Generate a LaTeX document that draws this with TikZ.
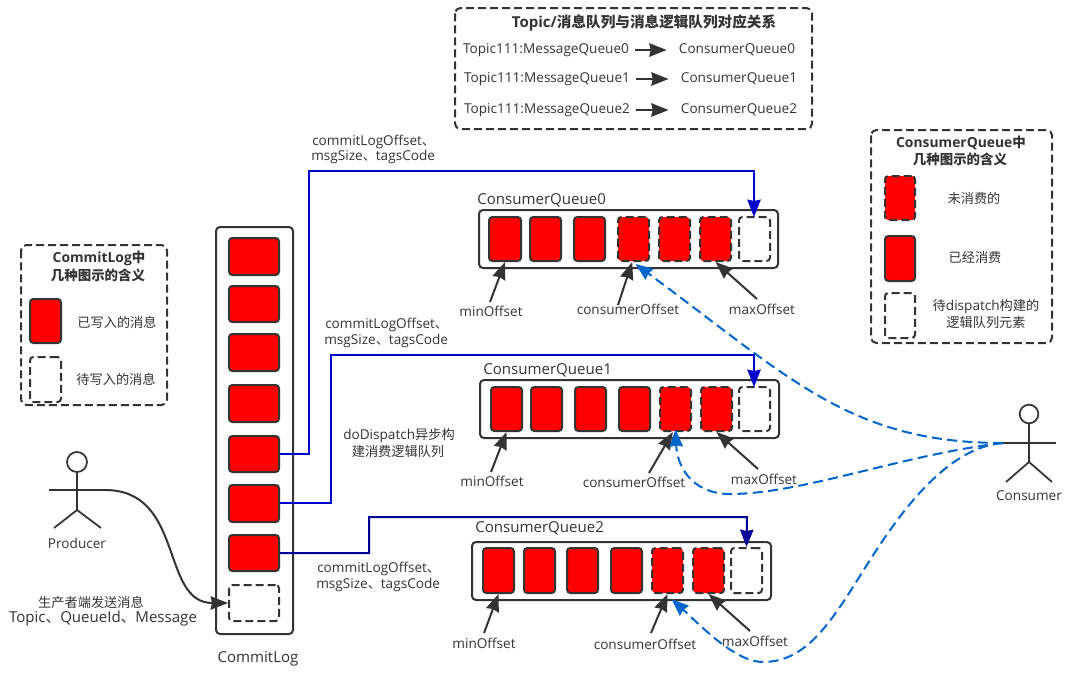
\documentclass[tikz,border=0pt]{standalone}
\usepackage{fontspec}
\setmainfont{Open Sans}
\newfontfamily\cjk[Scale=0.97]{Noto Sans CJK SC}
\usetikzlibrary{arrows.meta}
\definecolor{ink}{HTML}{333333}
\definecolor{bluea}{HTML}{0000CC}
\definecolor{blueb}{HTML}{000099}
\definecolor{blued}{HTML}{0066CC}
\tikzset{
  cellbase/.style={draw=ink,line width=1.5pt,rounded corners=2.5pt,inner sep=0pt,minimum width=#1},
  cellbase/.default=31,
  solid cell/.style={fill=red},
  dash cell/.style={fill=red,dash pattern=on 6pt off 3pt},
  empty cell/.style={fill=white,dash pattern=on 6pt off 3pt},
  frame/.style={draw=ink,line width=1.5pt,rounded corners=3pt,fill=white},
  legend/.style={draw=ink,line width=1.5pt,rounded corners=4pt,dash pattern=on 6pt off 3pt},
  txt/.style={text=ink,font=\fontsize{10.2pt}{12pt}\selectfont,inner sep=0pt},
  big/.style={text=ink,font=\fontsize{11.3pt}{13pt}\selectfont,inner sep=0pt},
  ttl/.style={text=ink,font=\fontsize{10.4pt}{12pt}\selectfont\bfseries,inner sep=0pt},
  tip/.style={-{Stealth[length=13pt,width=10pt,inset=1pt,sep=0pt]}},
  darrow/.style={draw=ink,line width=1.5pt,tip},
  link/.style={line width=1.5pt,tip},
  bdash/.style={draw=blued,line width=1.5pt,dash pattern=on 7.5pt off 4pt,tip},
  limb/.style={draw=ink,line width=1.3pt},
}
\newcommand{\cellq}[6]{%
  \pgfmathsetlengthmacro{\cw}{(#4-#3)*0.75pt}%
  \pgfmathsetlengthmacro{\ch}{(#6-#5)*0.75pt}%
  \node[cellbase=\cw,minimum height=\ch,#2] (#1) at ({(#3+#4)/2},{(#5+#6)/2}) {};}
\begin{document}
\begin{tikzpicture}[x=0.75pt,y=-0.75pt]
\useasboundingbox (0,0) rectangle (1066,675);
% top legend
\draw[legend] (455,8) rectangle (812,129);
\node[ttl,font=\fontsize{11.3pt}{13pt}\selectfont\bfseries] (tt) at (644,23) {Topic/{\cjk 消息队列与消息逻辑队列对应关系}};
\node[txt] (l0) at (546,50) {Topic111:MessageQueue0};
\node[txt] (r0) at (737,50) {ConsumerQueue0};
\node[txt] (l1) at (547,79) {Topic111:MessageQueue1};
\node[txt] (r1) at (739,79) {ConsumerQueue1};
\node[txt] (l2) at (547,110) {Topic111:MessageQueue2};
\node[txt] (r2) at (739,110) {ConsumerQueue2};
\draw[darrow] (l0.east)++(6,0) -- ([xshift=-9]r0.west);
\draw[darrow] (l1.east)++(6,0) -- ([xshift=-9]r1.west);
\draw[darrow] (l2.east)++(6,0) -- ([xshift=-9]r2.west);
% commitlog legend
\draw[legend] (21,245) rectangle (167,405);
\node[ttl] (a1) at (99,258) {CommitLog{\cjk 中}};
\node[ttl] (a2) at (98,275) {\cjk 几种图示的含义};
\cellq{a3}{solid cell}{30}{61}{299}{343}
\cellq{a4}{empty cell}{30}{61}{357}{402}
\node[txt] (a5) at (117,322) {\cjk 已写入的消息};
\node[txt] (a6) at (116,379) {\cjk 待写入的消息};
% consumer legend
\draw[legend] (871,130) rectangle (1052,343);
\node[ttl] (b1) at (961,143) {ConsumerQueue{\cjk 中}};
\node[ttl] (b2) at (960,159) {\cjk 几种图示的含义};
\cellq{b3}{dash cell}{885}{915}{176}{220}
\cellq{b4}{solid cell}{885}{915}{236}{281}
\cellq{b5}{empty cell}{885}{915}{293}{338}
\node[txt] (b6) at (974,198) {\cjk 未消费的};
\node[txt] (b7) at (975,257) {\cjk 已经消费};
\node[txt] (b8) at (986,307) {{\cjk 待}dispatch{\cjk 构建的}};
\node[txt] (b9) at (986,323) {\cjk 逻辑队列元素};
% commit log
\draw[frame] (216,227) rectangle (293,634);
\cellq{m0}{solid cell}{229}{279}{238}{275}
\cellq{m1}{solid cell}{229}{279}{286}{322}
\cellq{m2}{solid cell}{229}{279}{334}{371}
\cellq{m3}{solid cell}{229}{279}{385}{422}
\cellq{m4}{solid cell}{229}{279}{436}{472}
\cellq{m5}{solid cell}{229}{279}{485}{522}
\cellq{m6}{solid cell}{229}{279}{535}{571}
\cellq{m7}{empty cell}{229}{279}{585}{621}
\node[big] (cl) at (258,659) {CommitLog};
% queue 0
\draw[frame] (479,210) rectangle (778,268);
\node[big,anchor=west] (q0) at (477,200) {ConsumerQueue0};
\cellq{c00}{solid cell}{489}{521}{217}{261}
\cellq{c01}{solid cell}{530}{561}{217}{261}
\cellq{c02}{solid cell}{574}{605}{217}{261}
\cellq{c03}{dash cell}{618}{649}{217}{261}
\cellq{c04}{dash cell}{659}{690}{217}{261}
\cellq{c05}{dash cell}{700}{731}{217}{261}
\cellq{c06}{empty cell}{739}{770}{217}{261}
% queue 1
\draw[frame] (480,380) rectangle (779,438);
\node[big,anchor=west] (q1) at (483,370) {ConsumerQueue1};
\cellq{c10}{solid cell}{491}{522}{387}{431}
\cellq{c11}{solid cell}{531}{562}{387}{431}
\cellq{c12}{solid cell}{575}{606}{387}{431}
\cellq{c13}{solid cell}{619}{650}{387}{431}
\cellq{c14}{dash cell}{660}{691}{387}{431}
\cellq{c15}{dash cell}{701}{732}{387}{431}
\cellq{c16}{empty cell}{739}{770}{387}{431}
% queue 2
\draw[frame] (472,542) rectangle (771,600);
\node[big,anchor=west] (q2) at (475,528) {ConsumerQueue2};
\cellq{c20}{solid cell}{483}{514}{548}{593}
\cellq{c21}{solid cell}{524}{555}{548}{593}
\cellq{c22}{solid cell}{567}{598}{548}{593}
\cellq{c23}{solid cell}{611}{642}{548}{593}
\cellq{c24}{dash cell}{652}{683}{548}{593}
\cellq{c25}{dash cell}{693}{724}{548}{593}
\cellq{c26}{empty cell}{731}{762}{548}{593}
% offset labels
\node[txt] (mn0) at (491,311) {minOffset};
\node[txt] (co0) at (628,309) {consumerOffset};
\node[txt] (mx0) at (762,309) {maxOffset};
\node[txt] (mn1) at (492,481) {minOffset};
\node[txt] (co1) at (634,482) {consumerOffset};
\node[txt] (mx1) at (764,479) {maxOffset};
\node[txt] (mn2) at (484,643) {minOffset};
\node[txt] (co2) at (645,644) {consumerOffset};
\node[txt] (mx2) at (755,641) {maxOffset};
\coordinate (tn0) at (490,302); \coordinate (tc0) at (618,305); \coordinate (tx0) at (757,299);
\coordinate (tn1) at (491,472); \coordinate (tc1) at (649,473); \coordinate (tx1) at (758,469);
\coordinate (tn2) at (484,633); \coordinate (tc2) at (651,633); \coordinate (tx2) at (750,631);
\draw[darrow] (tn0) -- (c00.south);
\draw[darrow] (tc0) -- ([xshift=-1]c03.south);
\draw[darrow] (tx0) -- (c05.south);
\draw[darrow] (tn1) -- (c10.south);
\draw[darrow] (tc1) -- ([xshift=-2]c14.south);
\draw[darrow] (tx1) -- (c15.south);
\draw[darrow] (tn2) -- (c20.south);
\draw[darrow] (tc2) -- (c24.south);
\draw[darrow] (tx2) -- (c25.south);
% dispatch links
\draw[link,draw=bluea] (m4.east) -| (309,171) -- (754,171) -- (754,217);
\draw[link,draw=bluea] ([yshift=0.5]m5.east) -| (331,355) -- (754,355) -- (754,387);
\draw[link,draw=blueb] (m6.east) -| (369,517) -- (747,517) -- (c26.north);
\node[txt,anchor=west] (d0) at (312,142) {commitLogOffset{\cjk 、}};
\node[txt,anchor=west] (d1) at (311,157) {msgSize{\cjk 、}tagsCode};
\node[txt,anchor=west] (d2) at (325,325) {commitLogOffset{\cjk 、}};
\node[txt,anchor=west] (d3) at (324,341) {msgSize{\cjk 、}tagsCode};
\node[txt,anchor=west] (d4) at (317,569) {commitLogOffset{\cjk 、}};
\node[txt,anchor=west] (d5) at (316,585) {msgSize{\cjk 、}tagsCode};
\node[txt] (d6) at (399,436) {doDispatch{\cjk 异步构}};
\node[txt] (d7) at (398,452) {\cjk 建消费逻辑队列};
% producer
\node[draw=ink,line width=1.3pt,circle,minimum size=15pt,inner sep=0pt] (ph) at (77,462) {};
\coordinate (pc) at (77,510);
\coordinate (pl) at (49,490);
\coordinate (pr) at (105,490);
\coordinate (pa) at (54,528);
\coordinate (pb) at (101,528);
\draw[limb] (ph.south) -- (pc);
\draw[limb] (pl) -- (pr);
\draw[limb] (pa) -- (pc) -- (pb);
\node[txt] (pn) at (77,543) {Producer};
\node[txt] (s1) at (91,602) {\cjk 生产者端发送消息};
\node[big] (s2) at (103,619) {Topic{\cjk 、}QueueId{\cjk 、}Message};
\draw[darrow] (pr) .. controls (185,490) and (160,603) .. (m7.west);
% consumer
\node[draw=ink,line width=1.3pt,circle,minimum size=14pt,inner sep=0pt] (ch) at (1029,414) {};
\coordinate (cc) at (1029,462);
\coordinate (cl) at (1003,443);
\coordinate (cr) at (1056,443);
\coordinate (ca) at (1006,482);
\coordinate (cb) at (1052,482);
\draw[limb] (ch.south) -- (cc);
\draw[limb] (cl) -- (cr);
\draw[limb] (ca) -- (cc) -- (cb);
\node[txt] (cn) at (1029,496) {Consumer};
% consumer pulls
\draw[bdash] (cl) .. controls (850,443) and (790,378) .. ([shift={(2,2)}]c03.south);
\draw[bdash] (cl) .. controls (900,455) and (800,495) .. (727,494) .. controls (690,492) and (677,465) .. ([yshift=2]c14.south);
\draw[bdash] (cl) .. controls (950,447) and (905,505) .. (870,560) .. controls (835,615) and (810,662) .. (763,662) .. controls (735,662) and (700,625) .. ([shift={(4,5)}]c24.south);
\end{tikzpicture}
\end{document}
